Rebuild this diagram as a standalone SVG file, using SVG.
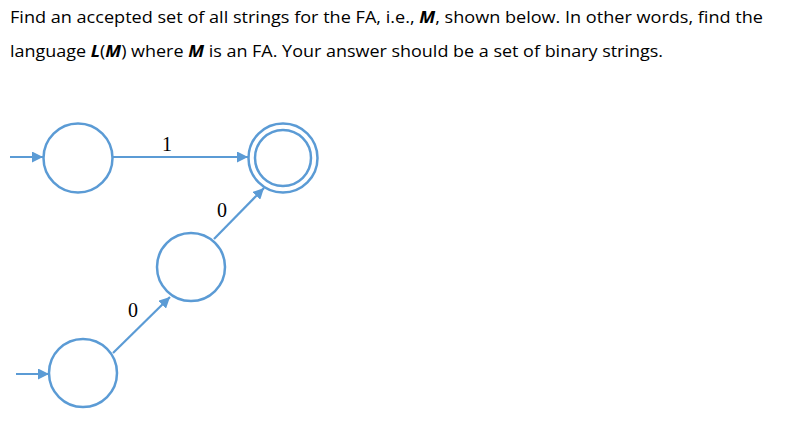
<svg xmlns="http://www.w3.org/2000/svg" width="794" height="428" viewBox="0 0 794 428">
<style>
.q{font-family:"Open Sans","Liberation Sans",sans-serif;font-size:16px;fill:#000}
.st{fill:#fff;stroke:#5B9BD5;stroke-width:2.5}
.e{stroke:#5B9BD5;stroke-width:2.2;fill:none;marker-end:url(#ah)}
.lb{font-family:"Liberation Serif",serif;font-size:20px;fill:#000;text-anchor:middle}
</style>
<defs>
<marker id="ah" viewBox="0 0 10 10" refX="10" refY="5" markerWidth="5" markerHeight="5" orient="auto" markerUnits="strokeWidth">
<path d="M0,0 L10,5 L0,10 z" fill="#5B9BD5"/>
</marker>
</defs>
<rect width="794" height="428" fill="#fff"/>
<text class="q" x="10" y="23" textLength="753" lengthAdjust="spacingAndGlyphs">Find an accepted set of all strings for the FA, i.e., <tspan font-weight="bold" font-style="italic">M</tspan>, shown below. In other words, find the</text>
<text class="q" x="10" y="57" textLength="653" lengthAdjust="spacingAndGlyphs">language <tspan font-weight="bold" font-style="italic">L</tspan>(<tspan font-weight="bold" font-style="italic">M</tspan>) where <tspan font-weight="bold" font-style="italic">M</tspan> is an FA. Your answer should be a set of binary strings.</text>
<g id="connectors">
<line class="e" x1="10" y1="157" x2="43" y2="157"/>
<line class="e" x1="112" y1="157" x2="248" y2="157"/>
<line class="e" x1="214" y1="239" x2="264" y2="188"/>
<line class="e" x1="16" y1="374" x2="49" y2="374"/>
<line class="e" x1="113" y1="353" x2="170" y2="297"/>
<text class="lb" x="167" y="151">1</text>
<text class="lb" x="222" y="217">0</text>
<text class="lb" x="133" y="317">0</text>
</g>
<g id="q0"><circle class="st" cx="78" cy="158" r="34.5"/></g>
<g id="qf"><circle class="st" cx="283" cy="158" r="34.5"/><circle class="st" cx="283" cy="158" r="28"/></g>
<g id="q2"><circle class="st" cx="191" cy="267" r="34"/></g>
<g id="q1"><circle class="st" cx="83" cy="373" r="34"/></g>
</svg>
